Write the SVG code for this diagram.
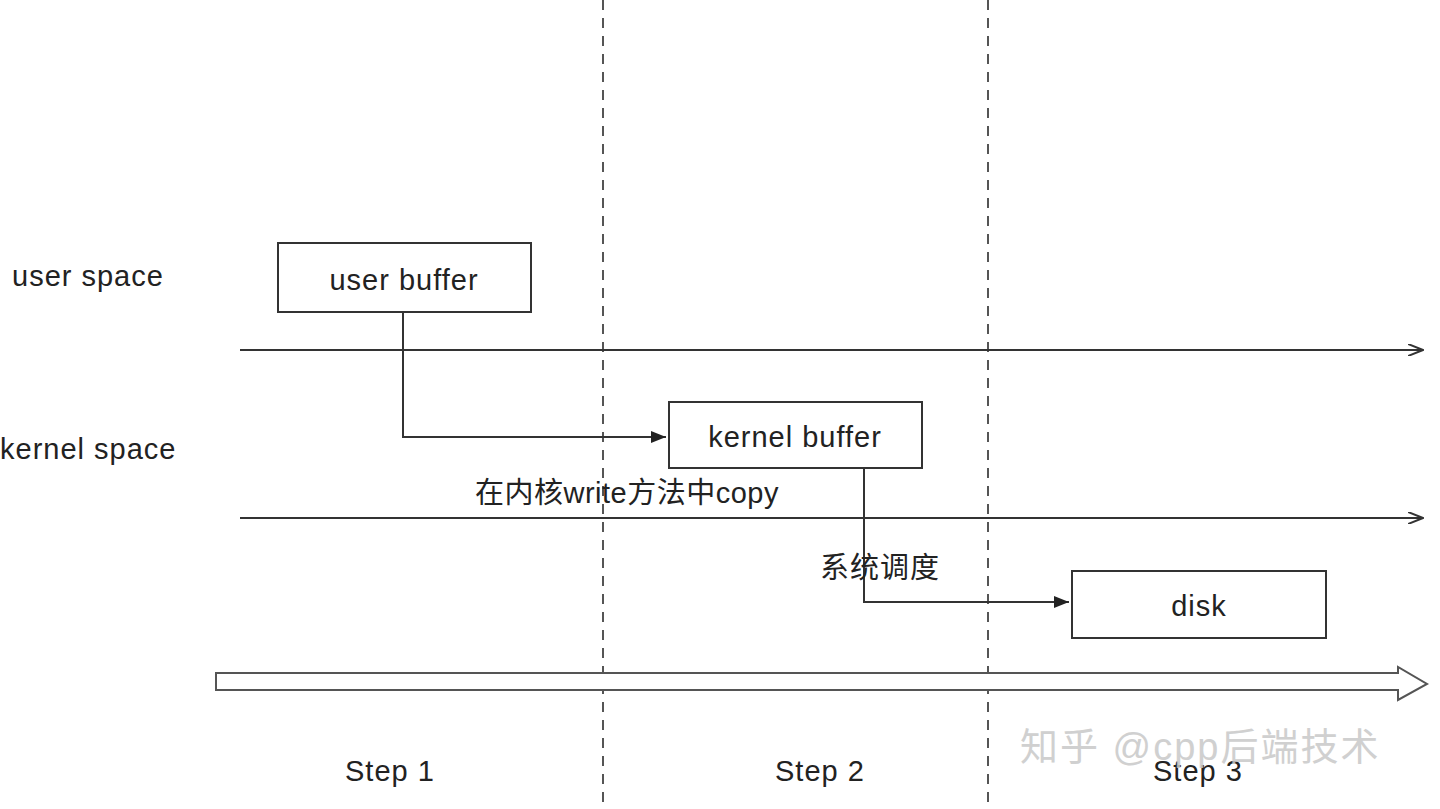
<svg xmlns="http://www.w3.org/2000/svg" width="1440" height="809" viewBox="0 0 1440 809">
<style>
text{font-family:"Liberation Sans","Noto Sans CJK SC",sans-serif;fill:#222;font-size:29px;letter-spacing:1px}
.box{fill:#fff;stroke:#333;stroke-width:2}
.ln{fill:none;stroke:#333;stroke-width:2}
.dash{stroke:#555;stroke-width:2;stroke-dasharray:10,8}
</style>
<defs>
<marker id="open" markerWidth="16" markerHeight="12" refX="15" refY="6" orient="auto" markerUnits="userSpaceOnUse"><path d="M0,0 L15,6 L0,12" fill="none" stroke="#333" stroke-width="2"/></marker>
<marker id="fill" markerWidth="16" markerHeight="12" refX="15" refY="6" orient="auto" markerUnits="userSpaceOnUse"><path d="M0,0 L15,6 L0,12 Z" fill="#222"/></marker>
</defs>
<rect width="1440" height="809" fill="#fff"/>
<line class="dash" x1="603" y1="0" x2="603" y2="809"/>
<line class="dash" x1="988" y1="0" x2="988" y2="809"/>
<text x="12" y="286">user space</text>
<text x="0" y="459">kernel space</text>
<g id="connectors">
<line class="ln" x1="240" y1="350" x2="1423" y2="350" marker-end="url(#open)"/>
<line class="ln" x1="240" y1="518" x2="1423" y2="518" marker-end="url(#open)"/>
<path class="ln" d="M403,312 V437 H666" marker-end="url(#fill)"/>
<path class="ln" d="M864,468 V602 H1069" marker-end="url(#fill)"/>
<path d="M216,673 H1398 V667 L1427,684 L1398,700 V690 H216 Z" fill="#fff" stroke="#555" stroke-width="2"/>
<text x="475" y="503" style="letter-spacing:0.5px">在内核write方法中copy</text>
<text x="820" y="578">系统调度</text>
</g>
<g id="user-buffer"><rect class="box" x="278" y="243" width="253" height="69"/><text x="404" y="290" text-anchor="middle">user buffer</text></g>
<g id="kernel-buffer"><rect class="box" x="669" y="402" width="253" height="66"/><text x="795" y="447" text-anchor="middle">kernel buffer</text></g>
<g id="disk"><rect class="box" x="1072" y="571" width="254" height="67"/><text x="1199" y="616" text-anchor="middle">disk</text></g>
<text x="345" y="781">Step 1</text>
<text x="775" y="781">Step 2</text>
<text x="1153" y="781">Step 3</text>
<text x="1020" y="760" style="font-size:38px;letter-spacing:2px;fill:#c8c8c8;opacity:0.85">知乎 @cpp后端技术</text>
</svg>
